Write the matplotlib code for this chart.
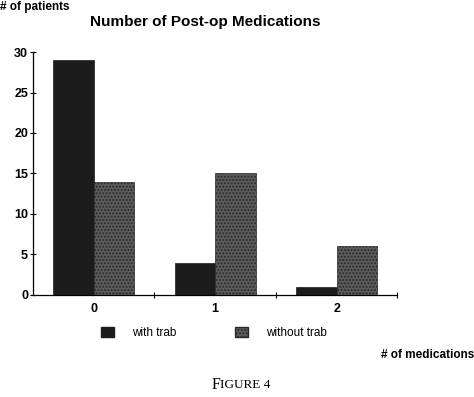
import numpy as np
import matplotlib.pyplot as plt
from matplotlib.patches import Patch

plt.rcParams['font.family'] = ['Liberation Sans', 'DejaVu Sans']
plt.rcParams['hatch.color'] = '#3a3a3a'

categories = ['0', '1', '2']
with_trab = [29, 4, 1]
without_trab = [14, 15, 6]

fig = plt.figure(figsize=(4.74, 3.97), dpi=100)
ax = fig.add_axes([0.0696, 0.257, 0.769, 0.612])

x = np.arange(len(categories))
w = 1 / 3
ax.bar(x - w / 2, with_trab, w, color='#1c1c1c', edgecolor='#1c1c1c', linewidth=0.5)
ax.bar(x + w / 2, without_trab, w, color='#5c5c5c', edgecolor='#2a2a2a',
       linewidth=0.5, hatch='.....')

ax.set_xlim(-0.5, 2.5)
ax.set_ylim(0, 30)
ax.set_yticks([0, 5, 10, 15, 20, 25, 30])
ax.set_xticks(x)
ax.set_xticklabels(categories, fontweight='bold', fontsize=9)
ax.set_xticks([0.5, 1.5, 2.5], minor=True)
ax.tick_params(axis='x', which='major', length=0, pad=6)
ax.tick_params(axis='x', which='minor', direction='inout', length=5, width=0.8)
ax.tick_params(axis='y', direction='inout', length=5, width=0.8, labelsize=9, pad=1)
for lab in ax.get_yticklabels():
    lab.set_fontweight('bold')
for s in ['top', 'right']:
    ax.spines[s].set_visible(False)
for s in ['left', 'bottom']:
    ax.spines[s].set_linewidth(0.9)

fig.text(0.0, 0.998, '# of patients', fontsize=8.5, fontweight='bold', va='top', ha='left')
fig.text(0.432, 0.944, 'Number of Post-op Medications', fontsize=11,
         fontweight='bold', ha='center', va='center')
fig.text(1.0, 0.105, '# of medications', fontsize=8.5, fontweight='bold',
         ha='right', va='center')

handles = [Patch(facecolor='#1c1c1c', edgecolor='#1c1c1c'),
           Patch(facecolor='#5c5c5c', edgecolor='#2a2a2a', hatch='.....')]
fig.legend(handles, ['with trab', 'without trab'], loc='center',
           bbox_to_anchor=(0.451, 0.162), ncol=2, frameon=False, fontsize=8.5,
           handlelength=1.1, handleheight=1.0, handletextpad=1.5, columnspacing=5.0)

fig.text(0.465, 0.03, 'F', fontsize=11.5, family='Liberation Serif', ha='right', va='center')
fig.text(0.465, 0.03, 'IGURE 4', fontsize=9.5, family='Liberation Serif', ha='left', va='center')

fig.savefig('out.png', dpi=100)
